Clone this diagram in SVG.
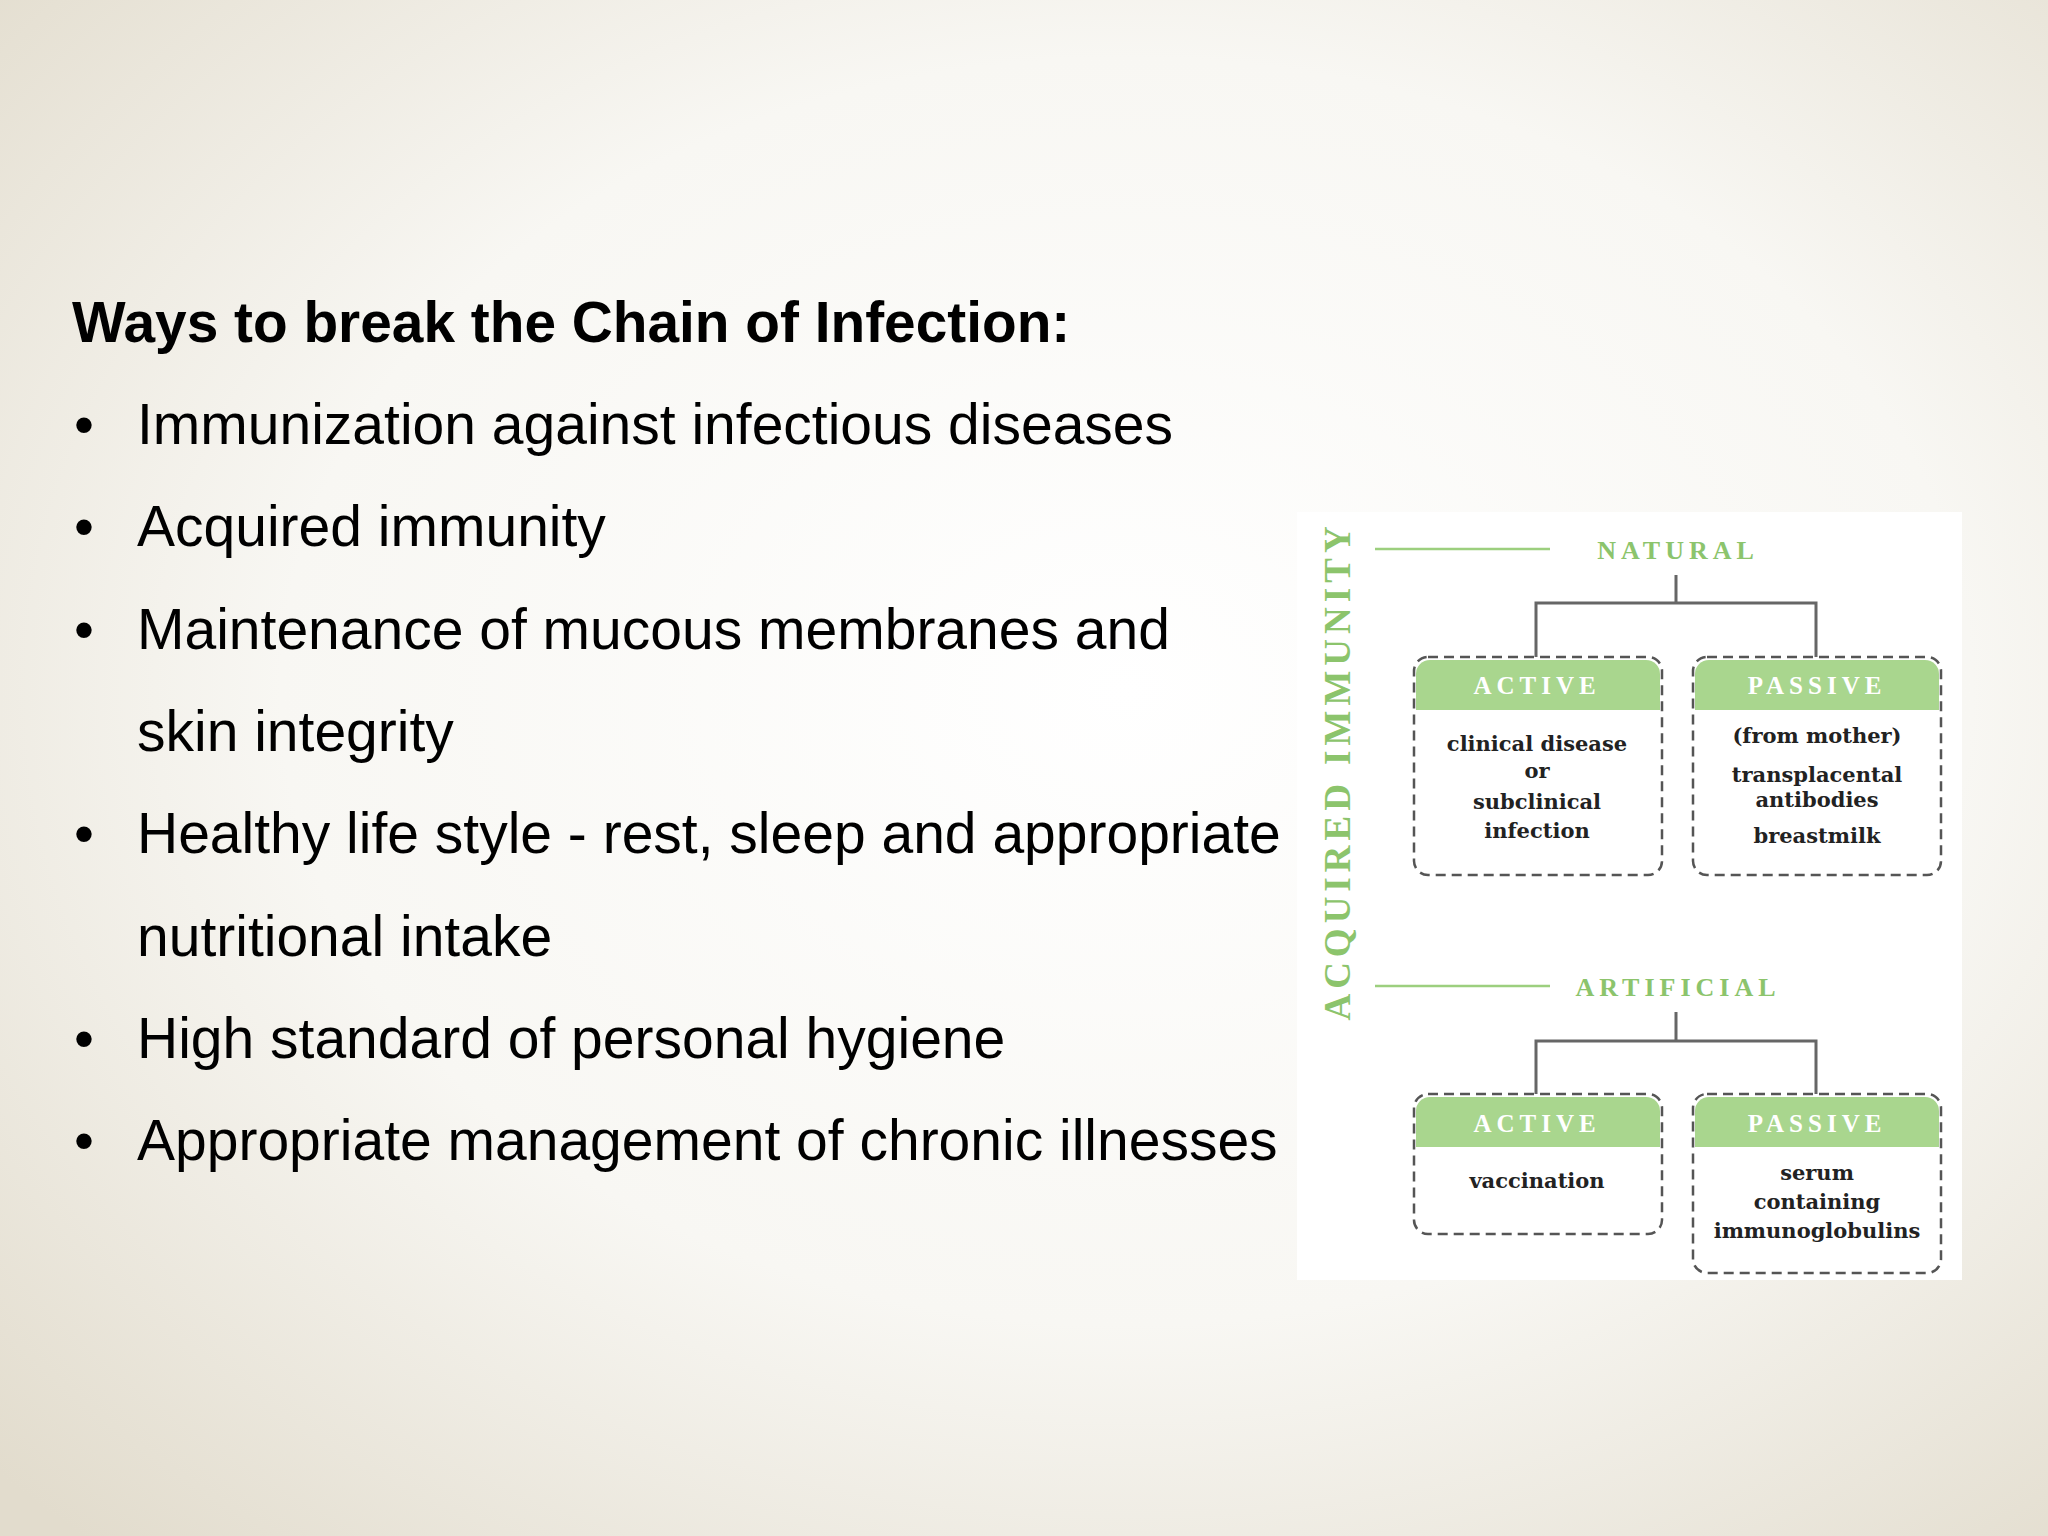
<svg xmlns="http://www.w3.org/2000/svg" width="2048" height="1536" viewBox="0 0 2048 1536">
<defs>
<radialGradient id="bg" cx="0.55" cy="0.45" r="0.75">
<stop offset="0" stop-color="#ffffff"/><stop offset="0.55" stop-color="#f8f7f3"/><stop offset="1" stop-color="#e2dccd"/>
</radialGradient>
<style>
.t{font-family:"Liberation Sans",Arial,sans-serif;fill:#000}
.b{font-size:57px}
.g{font-family:"Liberation Serif","DejaVu Serif",serif;font-weight:bold;fill:#8cc46c;letter-spacing:5px;text-anchor:middle}
.h{font-family:"Liberation Serif","DejaVu Serif",serif;font-weight:bold;fill:#fff;font-size:25px;letter-spacing:5px;text-anchor:middle}
.s{font-family:"DejaVu Serif","Liberation Serif",serif;font-weight:bold;fill:#222;font-size:21px;text-anchor:middle}
.box{fill:#fff;stroke:#555;stroke-width:2.5;stroke-dasharray:10 6}
.hd{fill:#a9d68e}
.c{fill:none;stroke:#666;stroke-width:3}
.gl{stroke:#9ccf7e;stroke-width:2.5}
</style>
</defs>
<rect width="2048" height="1536" fill="url(#bg)"/>
<text class="t" x="72" y="342" font-size="56.8" font-weight="bold">Ways to break the Chain of Infection:</text>
<g class="t b">
<text x="74" y="444">•</text><text x="137" y="444">Immunization against infectious diseases</text>
<text x="74" y="546">•</text><text x="137" y="546">Acquired immunity</text>
<text x="74" y="649">•</text><text x="137" y="649">Maintenance of mucous membranes and</text>
<text x="137" y="751">skin integrity</text>
<text x="74" y="853">•</text><text x="137" y="853">Healthy life style - rest, sleep and appropriate</text>
<text x="137" y="956">nutritional intake</text>
<text x="74" y="1058">•</text><text x="137" y="1058">High standard of personal hygiene</text>
<text x="74" y="1160">•</text><text x="137" y="1160">Appropriate management of chronic illnesses</text>
</g>
<rect x="1297" y="512" width="665" height="768" fill="#fff"/>
<text class="g" transform="translate(1350,771) rotate(-90)" font-size="37" letter-spacing="4">ACQUIRED IMMUNITY</text>
<g id="connectors">
<line class="gl" x1="1375" y1="549" x2="1550" y2="549"/>
<line class="gl" x1="1375" y1="986" x2="1550" y2="986"/>
<path class="c" d="M1676 575V603M1536 657V603H1816V657"/>
<path class="c" d="M1676 1012V1041M1536 1094V1041H1816V1094"/>
</g>
<g id="natural"><text class="g" x="1678" y="559" font-size="26">NATURAL</text></g>
<g id="artificial"><text class="g" x="1678" y="996" font-size="26">ARTIFICIAL</text></g>
<g id="nat-active">
<rect class="box" x="1414" y="657" width="248" height="218" rx="14"/>
<path class="hd" d="M1416 674a14 14 0 0 1 14-14h216a14 14 0 0 1 14 14v36h-244z"/>
<text class="h" x="1537" y="694">ACTIVE</text>
<text class="s" x="1537" y="751">clinical disease</text>
<text class="s" x="1537" y="778">or</text>
<text class="s" x="1537" y="809">subclinical</text>
<text class="s" x="1537" y="838">infection</text>
</g>
<g id="nat-passive">
<rect class="box" x="1693" y="657" width="248" height="218" rx="14"/>
<path class="hd" d="M1695 674a14 14 0 0 1 14-14h216a14 14 0 0 1 14 14v36h-244z"/>
<text class="h" x="1817" y="694">PASSIVE</text>
<text class="s" x="1817" y="743">(from mother)</text>
<text class="s" x="1817" y="782">transplacental</text>
<text class="s" x="1817" y="807">antibodies</text>
<text class="s" x="1817" y="843">breastmilk</text>
</g>
<g id="art-active">
<rect class="box" x="1414" y="1094" width="248" height="140" rx="14"/>
<path class="hd" d="M1416 1111a14 14 0 0 1 14-14h216a14 14 0 0 1 14 14v36h-244z"/>
<text class="h" x="1537" y="1132">ACTIVE</text>
<text class="s" x="1537" y="1188">vaccination</text>
</g>
<g id="art-passive">
<rect class="box" x="1693" y="1094" width="248" height="179" rx="14"/>
<path class="hd" d="M1695 1111a14 14 0 0 1 14-14h216a14 14 0 0 1 14 14v36h-244z"/>
<text class="h" x="1817" y="1132">PASSIVE</text>
<text class="s" x="1817" y="1180">serum</text>
<text class="s" x="1817" y="1209">containing</text>
<text class="s" x="1817" y="1238">immunoglobulins</text>
</g>
</svg>
